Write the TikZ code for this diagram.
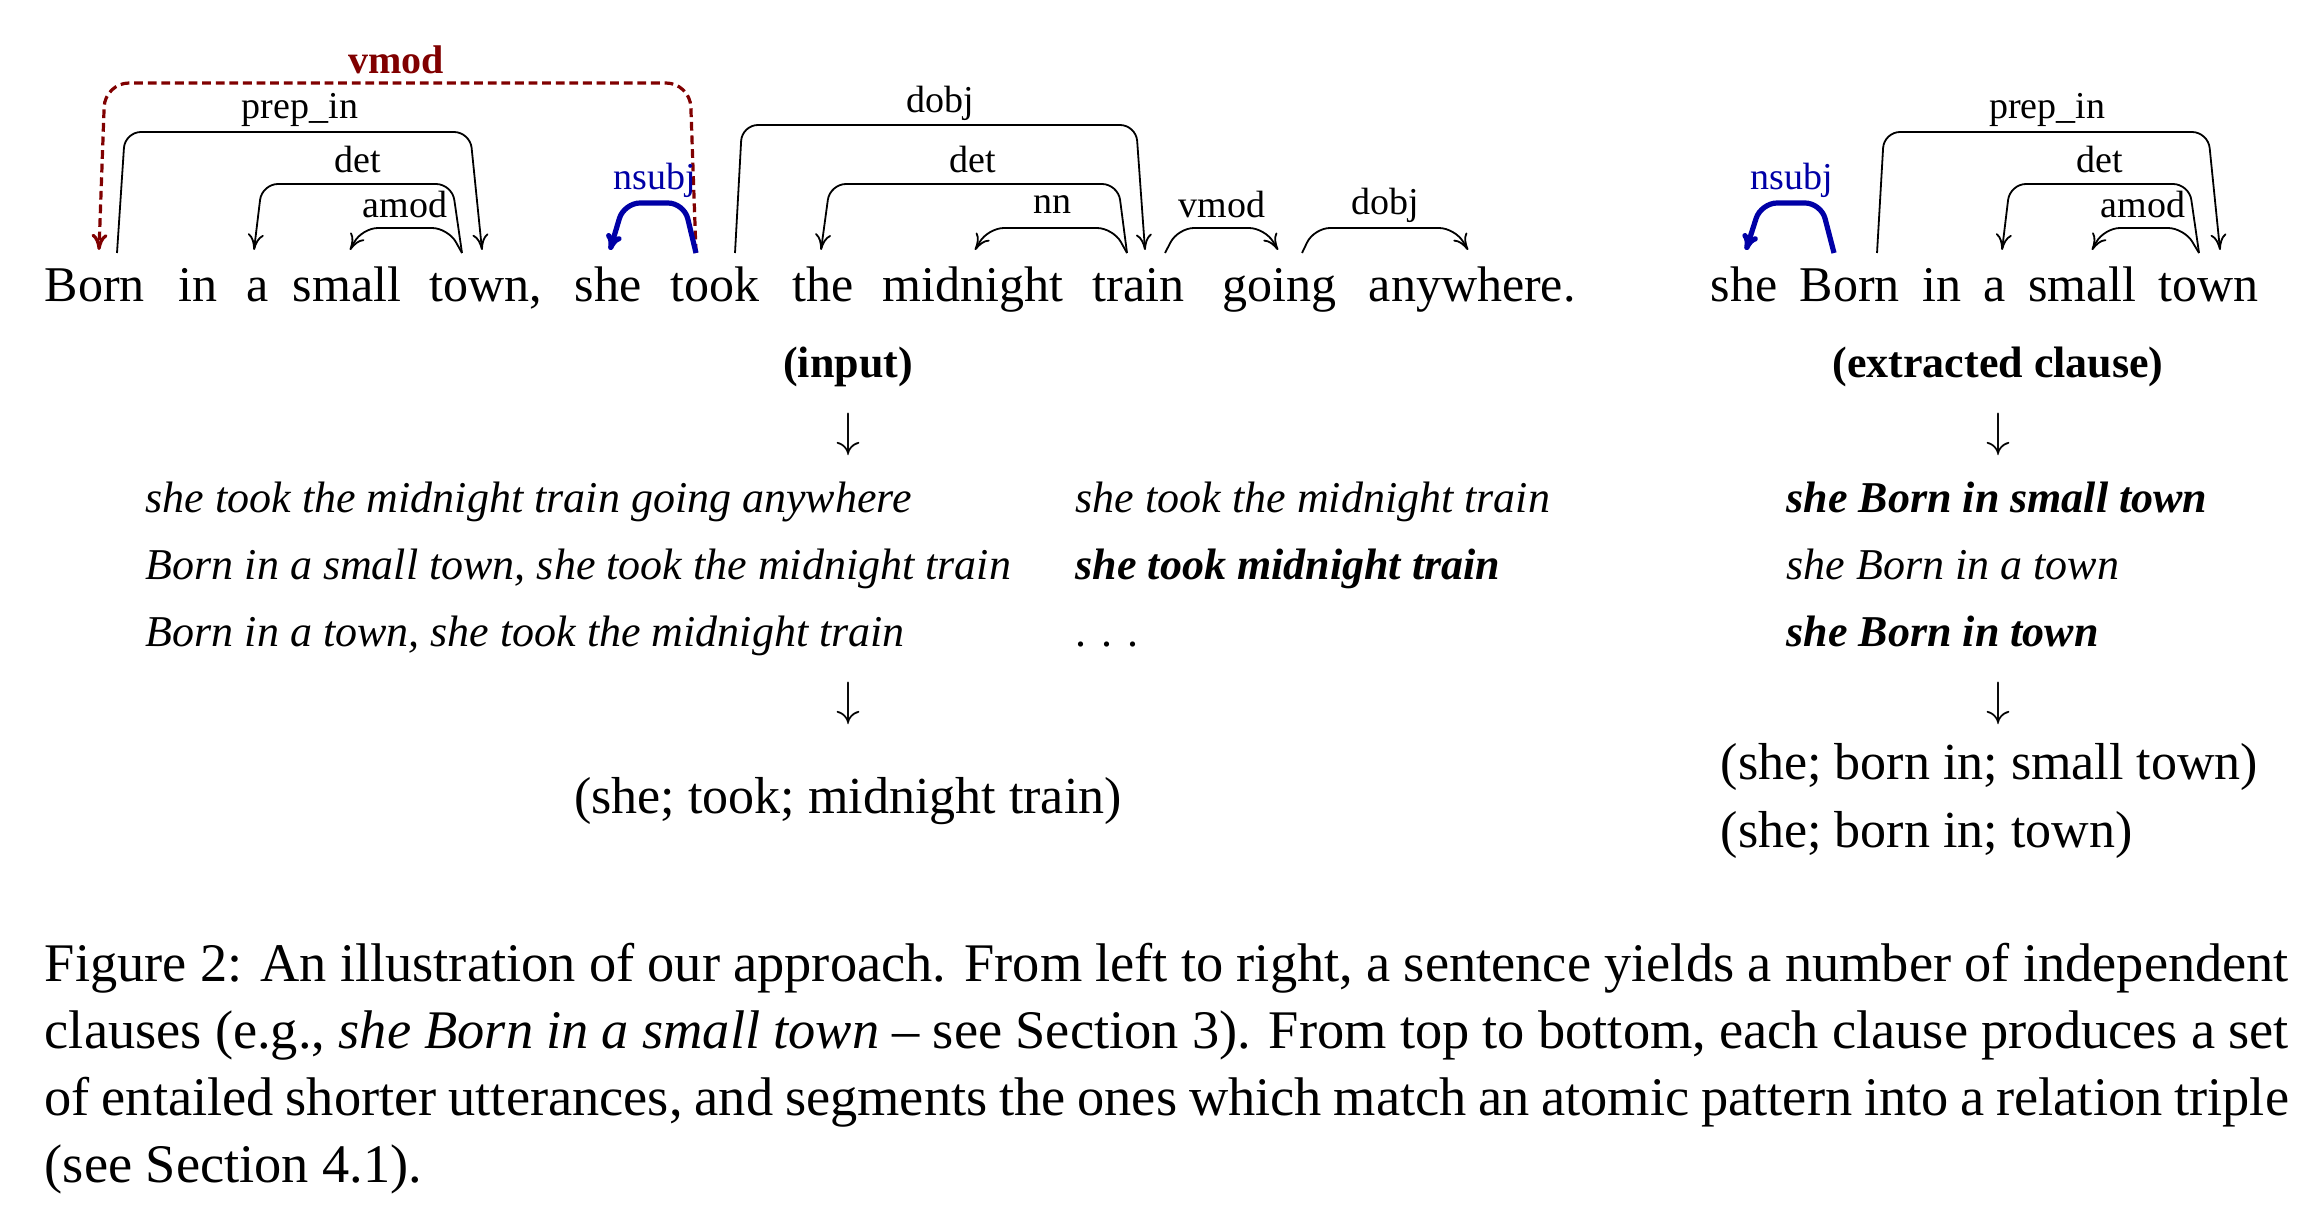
\documentclass[tikz,border=0pt]{standalone}
\usepackage{fontspec}
\setmainfont{Liberation Serif}
\usetikzlibrary{arrows.meta}
\definecolor{dred}{rgb}{0.5,0,0}
\definecolor{dblue}{rgb}{0,0,0.65}
\begin{document}
\begin{tikzpicture}[x=0.25pt,y=-0.25pt,
  w/.style={anchor=base west,inner sep=0pt,font=\fontsize{12.5}{14}\selectfont},
  lab/.style={inner sep=0pt,font=\fontsize{9.5}{11}\selectfont},
  dep/.style={line width=0.45pt,rounded corners=4pt,-{To[length=4pt,width=4pt]}},
  it/.style={anchor=base west,inner sep=0pt,font=\fontsize{11}{13}\selectfont\itshape},
  bit/.style={anchor=base west,inner sep=0pt,font=\fontsize{11}{13}\selectfont\bfseries\itshape},
  hd/.style={inner sep=0pt,font=\fontsize{11}{13}\selectfont\bfseries},
  tr/.style={inner sep=0pt,font=\fontsize{13}{15}\selectfont},
  dn/.style={inner sep=0pt,font=\fontsize{13}{15}\selectfont}]
\useasboundingbox (0,0) rectangle (2308,1208);
% main sentence
\foreach \t/\x/\n in {Born/44/w1,in/178/w2,a/246/w3,small/292/w4,{town,}/429/w5,she/574/w6,took/670/w7,the/792/w8,midnight/882/w9,train/1092/w10,going/1222/w11,anywhere./1368/w12}
  \node[w] (\n) at (\x,302) {\t};
% right sentence
\node[w] (r1) at (1710,302) {she};
\node[w] (r2) at ([xshift=5.2pt]r1.base east) {Born};
\node[w] (r3) at ([xshift=5.2pt]r2.base east) {in};
\node[w] (r4) at ([xshift=5.2pt]r3.base east) {a};
\node[w] (r5) at ([xshift=5.2pt]r4.base east) {small};
\node[w] (r6) at ([xshift=5.2pt]r5.base east) {town};
% arcs left
\draw[dep,dashed,dash pattern=on 2.2pt off 1.2pt,dred,line width=0.8pt,rounded corners=6pt] (696,253) -- (690,83) -- (105,83) -- (99,250);
\node[lab,dred,font=\fontsize{10}{12}\selectfont\bfseries] at (396,60) {vmod};
\draw[dep] (117,253) -- (125,132) -- (470,132) -- (482,250);
\node[lab] at (300,110) {prep\_in};
\draw[dep] (462,253) -- (452,184) -- (262,184) -- (254,250);
\node[lab] at (358,160) {det};
\draw[dep] (462,253) -- (448,228) -- (362,228) -- (350,250);
\node[lab] at (405,205) {amod};
\draw[dep,dblue,line width=1.3pt,rounded corners=4pt] (696,253) -- (684,203) -- (624,203) -- (610,250);
\node[lab,dblue] at (655,180) {nsubj};
% arcs middle
\draw[dep] (735,253) -- (742,125) -- (1136,125) -- (1145,250);
\node[lab] at (940,103) {dobj};
\draw[dep] (1127,253) -- (1118,184) -- (830,184) -- (821,250);
\node[lab] at (973,160) {det};
\draw[dep] (1127,253) -- (1113,228) -- (988,228) -- (975,250);
\node[lab] at (1052,205) {nn};
\draw[dep] (1165,253) -- (1178,228) -- (1265,228) -- (1278,250);
\node[lab] at (1222,205) {vmod};
\draw[dep] (1302,253) -- (1314,228) -- (1455,228) -- (1468,250);
\node[lab] at (1385,205) {dobj};
% arcs right
\draw[dep,dblue,line width=1.3pt] (1834,253) -- (1821,203) -- (1761,203) -- (1746,250);
\node[lab,dblue] at (1792,180) {nsubj};
\draw[dep] (1877,253) -- (1884,132) -- (2208,132) -- (2220,250);
\node[lab] at (2047,110) {prep\_in};
\draw[dep] (2199,253) -- (2189,184) -- (2010,184) -- (2002,250);
\node[lab] at (2100,160) {det};
\draw[dep] (2199,253) -- (2184,228) -- (2104,228) -- (2092,250);
\node[lab] at (2143,205) {amod};
% lower left
\node[hd] (in) at (848,367) {(input)};
\node[dn] (a1) at (848,434) {$\downarrow$};
\node[it] (l1) at (145,512) {she took the midnight train going anywhere};
\node[it] (l2) at (145,579) {Born in a small town, she took the midnight train};
\node[it] (l3) at (145,646) {Born in a town, she took the midnight train};
\node[it] (m1) at (1075,512) {she took the midnight train};
\node[bit] (m2) at (1075,579) {she took midnight train};
\node[it,font=\fontsize{11}{13}\selectfont] (m3) at (1075,646) {.\,\,.\,\,.};
\node[dn] (a2) at (848,703) {$\downarrow$};
\node[tr] (t1) at (848,801) {(she; took; midnight train)};
% lower right
\node[hd] (ex) at (1998,367) {(extracted clause)};
\node[dn] (a3) at (1998,434) {$\downarrow$};
\node[bit] (c1) at (1786,512) {she Born in small town};
\node[it] (c2) at (1786,579) {she Born in a town};
\node[bit] (c3) at (1786,646) {she Born in town};
\node[dn] (a4) at (1998,703) {$\downarrow$};
\node[tr,anchor=west] (t2) at (1720,767) {(she; born in; small town)};
\node[tr,anchor=west] (t3) at (1720,835) {(she; born in; town)};
% caption
\node[anchor=north west,inner sep=0pt,text width=561pt,align=justify,font=\fontsize{13.6}{16.75}\selectfont] (cap) at (44,942)
{Figure 2: An illustration of our approach. From left to right, a sentence yields a number of independent clauses (e.g., \textit{she Born in a small town} -- see Section 3). From top to bottom, each clause produces a set of entailed shorter utterances, and segments the ones which match an atomic pattern into a relation triple (see Section 4.1).};
\end{tikzpicture}
\end{document}
